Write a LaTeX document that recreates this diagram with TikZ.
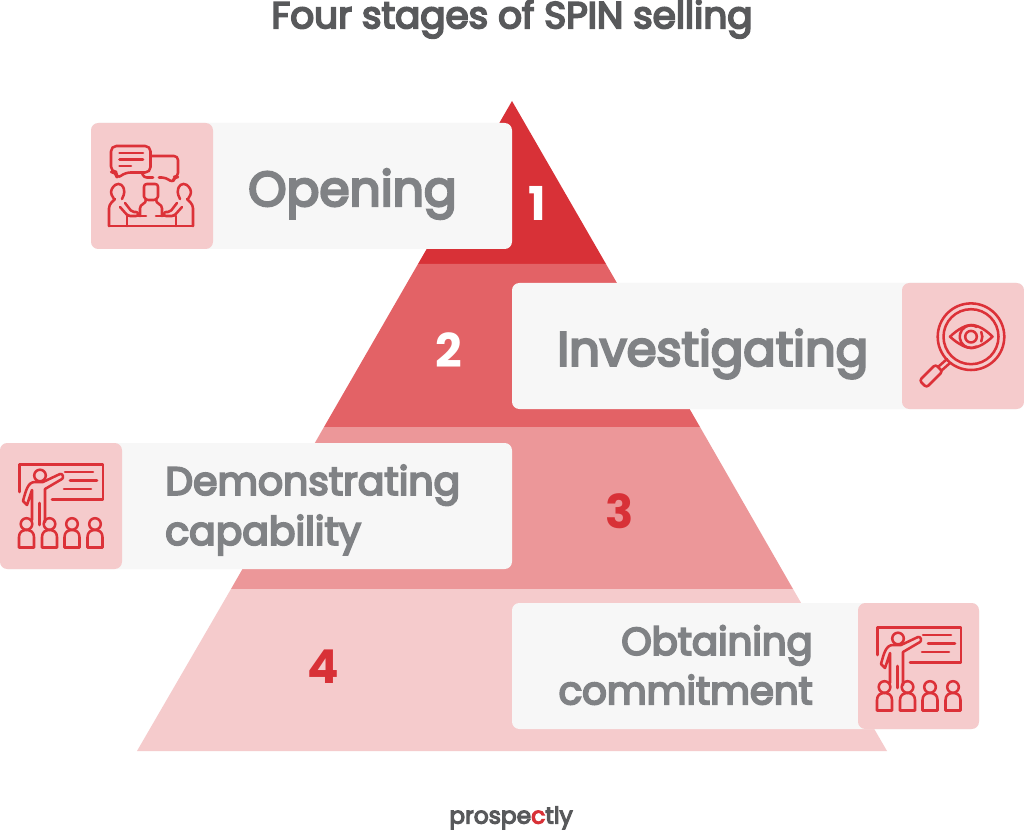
\documentclass[tikz,border=0pt]{standalone}
\usepackage{fontspec}
\setmainfont{Poppins}
\newfontfamily\semi[FakeBold=5]{Poppins}
\definecolor{rA}{HTML}{D83137}
\definecolor{rB}{HTML}{E36266}
\definecolor{rC}{HTML}{EC9799}
\definecolor{rD}{HTML}{F5CBCC}
\definecolor{card}{HTML}{F7F7F7}
\definecolor{ttl}{HTML}{58595B}
\definecolor{lbl}{HTML}{808285}
\definecolor{ico}{HTML}{DC3138}
\tikzset{
  cardbox/.style={fill=card,rounded corners=5.5},
  iconbox/.style={fill=rD,rounded corners=5.5},
  ln/.style={draw=ico,line width=1.9pt,line join=round,line cap=round,fill=none},
  lab/.style={text=lbl,inner sep=0pt},
  num/.style={font=\bfseries\fontsize{35}{40}\selectfont,inner sep=0pt},
}
\newcommand{\teachicon}{%
  \draw[ln] (19.5,492)--(19.5,464.5)--(103,464.5)--(103,499.5)--(52,499.5);
  \draw[ln] (65,472)--(93,472) (70,480.5)--(97,480.5) (64,489)--(91,489);
  \draw[ln] (40,475.5) circle (5.8);
  \draw[ln] (32,520)--(32,490)--(27,505)--(23,501) .. controls (26,490) and (28,482) .. (35,482)--(43,482)--(60,474) .. controls (63,473) and (64,478) .. (62,479)--(45,489)--(45,522);
  \draw[ln] (39.5,503)--(39.5,525);
  \foreach \hx in {26.5,49.5,72,95}{
    \draw[ln] (\hx,524) circle (5.8);
    \draw[ln] (\hx-7.5,547.5)--(\hx-7.5,537) .. controls (\hx-7.5,532) and (\hx-4,530) .. (\hx,530) .. controls (\hx+4,530) and (\hx+7.5,532) .. (\hx+7.5,537)--(\hx+7.5,547.5)--cycle;
  }
}
\begin{document}
\begin{tikzpicture}[x=0.75pt,y=-0.75pt]
\useasboundingbox (0,0) rectangle (1024,830);
\fill[white] (0,0) rectangle (1024,830);
\node[text=ttl,font=\semi\fontsize{28}{32}\selectfont,inner sep=0pt] (title) at (512,19) {Four stages of SPIN selling};
% pyramid
\fill[rA] (512,101)--(606,264)--(418,264)--cycle;
\fill[rB] (418,264)--(606,264)--(700,427)--(324,427)--cycle;
\fill[rC] (324,427)--(700,427)--(793,589)--(231,589)--cycle;
\fill[rD] (231,589)--(793,589)--(887,751)--(137,751)--cycle;
% numbers
\node[num,text=white] (n1) at (537,203) {1};
\node[num,text=white] (n2) at (449,350) {2};
\node[num,text=rA] (n3) at (620,511) {3};
\node[num,text=rA] (n4) at (323,667) {4};
% cards
\fill[cardbox] (91,123) rectangle (512,249);
\fill[iconbox] (91,123) rectangle (213,249);
\fill[cardbox] (512,283) rectangle (1024,409);
\fill[iconbox] (902,283) rectangle (1024,409);
\fill[cardbox] (0,443) rectangle (512,569);
\fill[iconbox] (0,443) rectangle (122,569);
\fill[cardbox] (512,603) rectangle (979,729);
\fill[iconbox] (858,603) rectangle (979,729);
% labels
\node[lab,anchor=west,font=\semi\fontsize{36.5}{40}\selectfont] (opening) at (248,194) {Opening};
\node[lab,anchor=west,font=\semi\fontsize{36}{40}\selectfont] (inv) at (557,354) {Investigating};
\node[lab,anchor=west,align=left,font=\semi\fontsize{29.5}{37.5}\selectfont] (dem) at (165,510) {Demonstrating\\capability};
\node[lab,anchor=east,align=right,font=\semi\fontsize{29}{37}\selectfont] (obt) at (813,665) {Obtaining\\commitment};
% meeting icon
\draw[ln,rounded corners=4] (116.5,172)--(117,179)--(125,172.5)--(150.5,172.5)--(150.5,146)--(111,146)--(111,172)--cycle;
\draw[ln] (119.5,153)--(143,153) (119.5,159.5)--(143,159.5) (119.5,166)--(131,166);
\draw[ln,rounded corners=3] (151,156)--(178,156)--(178,177)--(174,177)--(173,183)--(166,177.5)--(159,177.5);
\draw[ln,rounded corners=2] (153,177.5)--(144,177.5)--(142,173);
\foreach \sx/\sg in {118/1,184/-1}{
  \draw[ln,rounded corners=2.5] (\sx-\sg*4,199)--(\sx-\sg*8,192)--(\sx-\sg*3,184)--(\sx+\sg*4,184)--(\sx+\sg*7,192)--(\sx+\sg*4,199);
  \draw[ln,rounded corners=2.5] (\sx-\sg*9,226)--(\sx-\sg*9,205)--(\sx-\sg*3,199);
  \draw[ln,rounded corners=1.5] (\sx+\sg*7,203)--(\sx+\sg*14,212)--(\sx+\sg*20,212)--(\sx+\sg*20,216)--(\sx+\sg*10,216)--(\sx+\sg*2,207);
}
\draw[ln,rounded corners=2] (144,184)--(144,194) .. controls (144,199) and (147,200) .. (151,200) .. controls (155,200) and (158,199) .. (158,194)--(158,184)--cycle;
\draw[ln,rounded corners=2.5] (146,199)--(146,203)--(140,205)--(140,216) (156,199)--(156,203)--(162,205)--(162,216);
\draw[ln,rounded corners=1.5] (128,216)--(146,216) (156,216)--(174,216);
\draw[ln] (127,216)--(127,226) (176,216)--(176,226) (127,226)--(176,226);
\draw[ln] (109,219)--(109,226)--(193,226)--(193,219);
% eye icon
\draw[ln] (971,336.7) circle (33.3);
\draw[ln] (971,336.7) circle (27.5);
\draw[ln] (950,336.7) .. controls (958,329) and (966,325) .. (971,325) .. controls (978,325) and (986,330) .. (992.5,336.7) .. controls (986,343) and (978,348) .. (971,348) .. controls (966,348) and (958,344) .. (950,336.7)--cycle;
\draw[ln] (971,336.7) circle (5.8);
\draw[ln] (971,336.7) ++(60:11.3) arc (60:300:11.3);
\draw[ln] (971,336.7) ++(-25:11.3) arc (-25:25:11.3);
\draw[ln,rounded corners=2] (935.5,364.5)--(942.5,371.5)--(926.5,387.5)--(919.5,380.5)--cycle;
\draw[ln] (947,359)--(938,367) (950,363)--(941,371);
% teaching icons
\teachicon
\begin{scope}[shift={(858,163)}]
\teachicon
\end{scope}
% logo
\node[text=ttl,font=\semi\fontsize{17.5}{20}\selectfont,inner sep=0pt] (logo) at (511,818) {prospe\textcolor{rA}{c}tly};
\end{tikzpicture}
\end{document}
